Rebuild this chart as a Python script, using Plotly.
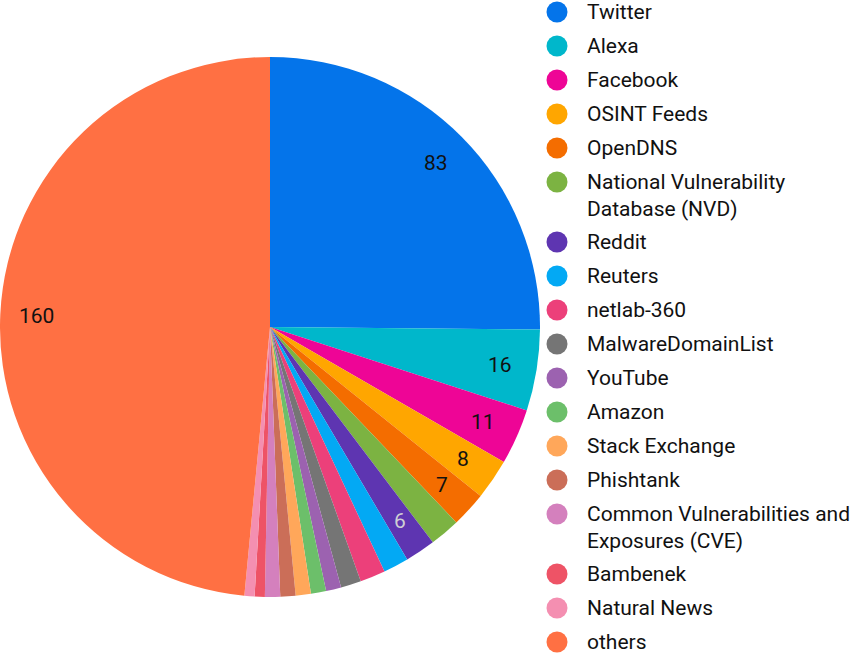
import math
import plotly.graph_objects as go

labels = ["Twitter", "Alexa", "Facebook", "OSINT Feeds", "OpenDNS",
          "National Vulnerability Database (NVD)", "Reddit", "Reuters",
          "netlab-360", "MalwareDomainList", "YouTube", "Amazon",
          "Stack Exchange", "Phishtank", "Common Vulnerabilities and Exposures (CVE)",
          "Bambenek", "Natural News", "others"]
legend_text = ["Twitter", "Alexa", "Facebook", "OSINT Feeds", "OpenDNS",
               "National Vulnerability<br>Database (NVD)", "Reddit", "Reuters",
               "netlab-360", "MalwareDomainList", "YouTube", "Amazon",
               "Stack Exchange", "Phishtank", "Common Vulnerabilities and<br>Exposures (CVE)",
               "Bambenek", "Natural News", "others"]
values = [83, 16, 11, 8, 7, 6, 6, 5, 5, 4, 3, 3, 3, 3, 3, 2, 2, 160]
shown_labels = [83, 16, 11, 8, 7, None, 6, None, None, None, None, None, None, None, None, None, None, 160]
colors = ["#0474ea", "#00b7cb", "#ee0596", "#ffa600", "#f46d00", "#7cb342",
          "#5e35b1", "#03a9f4", "#ec407a", "#757575", "#9c62b0", "#6cbf6a",
          "#ffa75a", "#cb6e58", "#d480bd", "#ee5366", "#f48fb1", "#ff7043"]
label_colors = ["#111111"] * len(values)
label_colors[6] = "#cfcfd4"

W, H = 850, 654
FONT = "Roboto, 'Noto Sans', sans-serif"
CX, CY, R = 270, 327, 270

fig = go.Figure()
fig.add_trace(go.Pie(
    labels=labels, values=values, sort=False, direction="clockwise", rotation=0,
    marker=dict(colors=colors, line=dict(width=0)),
    textinfo="none", hoverinfo="label+value", showlegend=False,
    domain=dict(x=[(CX - R) / W, (CX + R) / W], y=[(H - CY - R) / H, (H - CY + R) / H]),
))

# Slice value labels placed at the mid-angle of each slice (annotations sit above the pie)
total = sum(values)
cum = 0
for v, s, c in zip(values, shown_labels, label_colors):
    mid = (cum + v / 2) / total * 2 * math.pi
    cum += v
    if s is None:
        continue
    r = 0.864 * R
    fig.add_annotation(
        x=CX + r * math.sin(mid), y=CY - r * math.cos(mid), xref="x", yref="y",
        text=str(s), showarrow=False, xanchor="center", yanchor="middle",
        font=dict(family=FONT, size=21, color=c),
    )

# Custom legend (circle markers) laid out from the label list
step, extra = 34, 26
ys_marker, ys_text = [], []
y = 12
for t in legend_text:
    nlines = t.count("<br>") + 1
    ys_marker.append(y)
    ys_text.append(y + (nlines - 1) * extra / 2)
    y += step + (nlines - 1) * extra

fig.add_trace(go.Scatter(
    x=[557] * len(labels), y=ys_marker, mode="markers",
    marker=dict(size=21, color=colors, line=dict(width=0)),
    hoverinfo="skip", showlegend=False, cliponaxis=False,
))
fig.add_trace(go.Scatter(
    x=[587] * len(labels), y=[v + 2 for v in ys_text], mode="text", text=legend_text,
    textposition="middle right",
    textfont=dict(family=FONT, size=21, color="#111111"),
    hoverinfo="skip", showlegend=False, cliponaxis=False,
))

fig.update_layout(
    width=W, height=H, margin=dict(l=0, r=0, t=0, b=0),
    paper_bgcolor="white", plot_bgcolor="rgba(0,0,0,0)",
    font=dict(family=FONT, size=20, color="#111111"),
    xaxis=dict(range=[0, W], domain=[0, 1], visible=False, fixedrange=True),
    yaxis=dict(range=[H, 0], domain=[0, 1], visible=False, fixedrange=True),
    showlegend=False,
)

fig.write_html("out.html")
